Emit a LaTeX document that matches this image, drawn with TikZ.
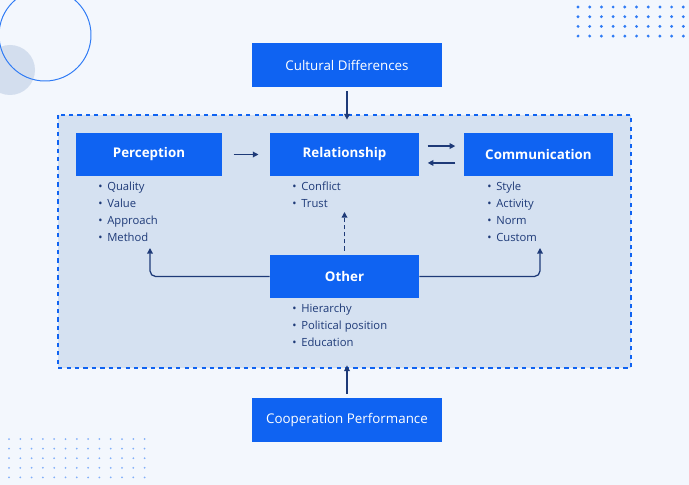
\documentclass[tikz,border=0pt]{standalone}
\usepackage{fontspec}
\setmainfont{Open Sans}
\usetikzlibrary{arrows.meta}
\definecolor{bgpage}{HTML}{F3F7FD}
\definecolor{boxblue}{HTML}{0F63F2}
\definecolor{panel}{HTML}{D5E1F1}
\definecolor{navy}{HTML}{1E3A78}
\definecolor{dotblue}{HTML}{2F7BF5}
\definecolor{pale}{HTML}{D3DEEE}
\begin{document}
\begin{tikzpicture}[x=0.025cm,y=-0.025cm,
    box/.style={fill=boxblue,text=white,inner sep=0pt,font=\fontsize{9.5}{11}\selectfont},
    item/.style={anchor=north west,align=left,text=navy,inner sep=0pt,font=\fontsize{8}{12}\selectfont},
    arr/.style={navy,line width=0.9pt,-{Triangle[length=4pt,width=4pt]}}]
    \useasboundingbox[fill=bgpage] (0,0) rectangle (689,485);

    % decorations
    \fill[pale] (10,70) circle (25);
    \draw[dotblue,line width=0.7pt] (45,35) circle (46);
    \foreach \i in {0,...,9}
        \foreach \j in {0,...,3}
            \fill[dotblue] (578+\i*11.7,7+\j*9.7) circle (1.6);
    \foreach \i in {0,...,12}
        \foreach \j in {0,...,4}
            \fill[dotblue!60] (9+\i*11.3,439+\j*9.6) circle (1);

    % panel
    \draw[boxblue,dashed,line width=0.8pt,fill=panel] (58,115) rectangle (631,368);

    % boxes
    \node[box,minimum width=190*0.025cm,minimum height=44*0.025cm] (cult) at (347,65) {Cultural Differences};
    \node[box,minimum width=190*0.025cm,minimum height=44*0.025cm] (coop) at (347,420) {Cooperation Performance};
    \node[box,minimum width=146*0.025cm,minimum height=43*0.025cm,font=\fontsize{9.5}{11}\selectfont\bfseries] (perc) at (149,154.5) {Perception};
    \node[box,minimum width=149*0.025cm,minimum height=43*0.025cm,font=\fontsize{9.5}{11}\selectfont\bfseries] (rel) at (344.5,154.5) {Relationship};
    \node[box,minimum width=149*0.025cm,minimum height=43*0.025cm,font=\fontsize{9.5}{11}\selectfont\bfseries] (comm) at (538.5,154.5) {Communication};
    \node[box,minimum width=149*0.025cm,minimum height=43*0.025cm,font=\fontsize{9.5}{11}\selectfont\bfseries] (oth) at (344.5,276.5) {Other};

    % lists
    \node[item] (percl) at (98,182) {• \,Quality\\• \,Value\\• \,Approach\\• \,Method};
    \node[item] (rell) at (292,182) {• \,Conflict\\• \,Trust};
    \node[item] (comml) at (487,182) {• \,Style\\• \,Activity\\• \,Norm\\• \,Custom};
    \node[item] (othl) at (292,304) {• \,Hierarchy\\• \,Political position\\• \,Education};

    % arrows
    \coordinate (pl) at (150,248);
    \coordinate (cl) at (540,248);
    \coordinate (rl) at (344.5,212);
    \draw[arr] ([yshift=-3pt]cult.south) -- ([yshift=-23pt]cult.south);
    \draw[arr] ([yshift=3pt]coop.north) -- ([yshift=23pt]coop.north);
    \draw[arr] ([xshift=8pt]perc.east) -- ([xshift=-8pt]rel.west);
    \draw[arr] ([xshift=6pt,yshift=6pt]rel.east) -- ([xshift=-6pt,yshift=6pt]comm.west);
    \draw[arr] ([xshift=-6pt,yshift=-6pt]comm.west) -- ([xshift=6pt,yshift=-6pt]rel.east);
    \draw[arr,densely dashed] ([yshift=3pt]oth.north) -- (rl);
    \draw[arr,rounded corners=4pt] (oth.west) -| (pl);
    \draw[arr,rounded corners=4pt] (oth.east) -| (cl);
\end{tikzpicture}
\end{document}
